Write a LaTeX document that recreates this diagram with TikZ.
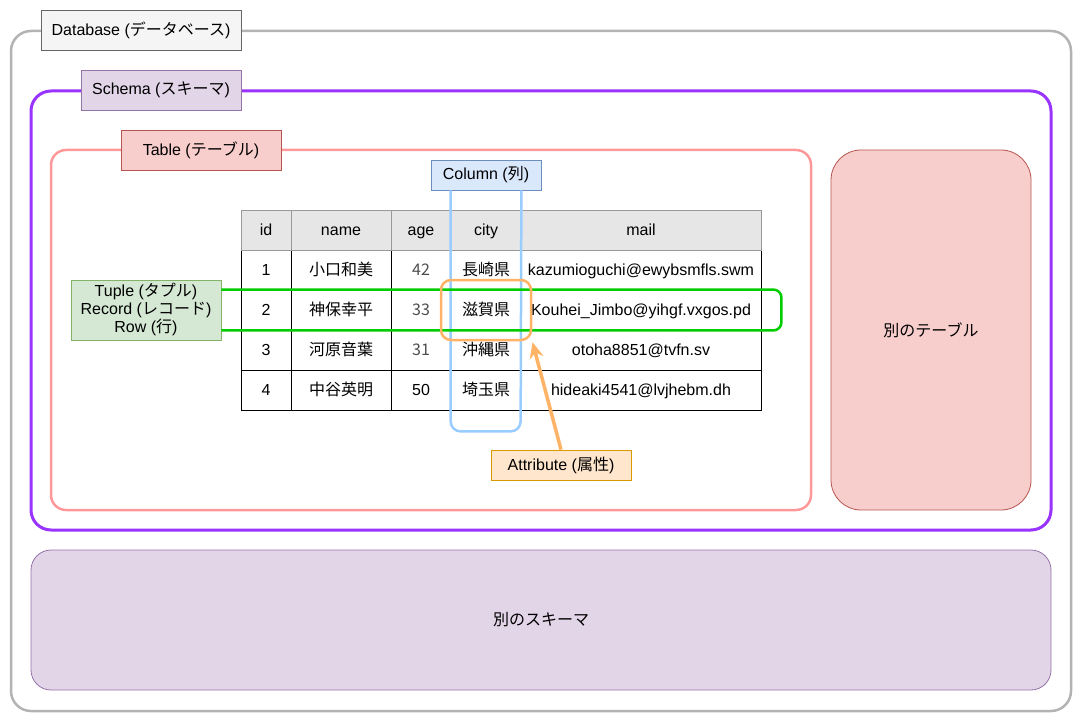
\documentclass[tikz,border=0pt]{standalone}
\usepackage{fontspec}
\setmainfont{Liberation Sans}
\newfontfamily\jp{Noto Sans CJK JP}
\usepackage{tikz}
\usetikzlibrary{arrows.meta,calc}
\definecolor{dbline}{HTML}{B3B3B3}
\definecolor{dbfill}{HTML}{F5F5F5}
\definecolor{dbdraw}{HTML}{666666}
\definecolor{scline}{HTML}{9933FF}
\definecolor{scfill}{HTML}{E1D5E7}
\definecolor{scdraw}{HTML}{9673A6}
\definecolor{tbline}{HTML}{FF9999}
\definecolor{tbfill}{HTML}{F8CECC}
\definecolor{tbdraw}{HTML}{B85450}
\definecolor{colfill}{HTML}{DAE8FC}
\definecolor{coldraw}{HTML}{6C8EBF}
\definecolor{colline}{HTML}{99CCFF}
\definecolor{rowfill}{HTML}{D5E8D4}
\definecolor{rowdraw}{HTML}{82B366}
\definecolor{rowline}{HTML}{00CC00}
\definecolor{atfill}{HTML}{FFE6CC}
\definecolor{atdraw}{HTML}{D79B00}
\definecolor{atline}{HTML}{FFB366}
\definecolor{headfill}{HTML}{E6E6E6}
\definecolor{headdraw}{HTML}{999999}
\definecolor{agegray}{HTML}{4D4D4D}

\begin{document}
\begin{tikzpicture}[x=1pt,y=-1pt,font=\fontsize{16}{19}\selectfont,
		frame/.style={rounded corners=20pt,inner sep=0pt},
		tag/.style={draw,line width=0.8pt,inner sep=0pt,align=center},
		cell/.style={draw=black,line width=0.8pt,minimum height=40pt,inner sep=0pt,text height=11pt,text depth=0pt},
		headcell/.style={cell,fill=headfill,draw=headdraw}]
		\useasboundingbox (0,0) rectangle (1083,722);
		% containers
		\node[frame,draw=dbline,line width=2.5pt,minimum width=1060pt,minimum height=680pt] (DB) at (541,371) {};
		\node[frame,draw=scline,line width=3pt,minimum width=1020pt,minimum height=439pt] (SC) at (541,310.5) {};
		\node[frame,rounded corners=15pt,draw=tbline,line width=2.5pt,minimum width=760pt,minimum height=360pt] (TB) at (431,330) {};
		\node[frame,rounded corners=30pt,draw=tbdraw,fill=tbfill,line width=0.8pt,minimum width=200pt,minimum height=360pt] (TB2) at (931,330) {\jp 別のテーブル};
		\node[frame,draw=scdraw,fill=scfill,line width=0.8pt,minimum width=1020pt,minimum height=140pt] (SC2) at (541,620) {\jp 別のスキーマ};
		% labels
		\node[tag,draw=dbdraw,fill=dbfill,minimum width=200pt,minimum height=40pt] (DBL) at (141,30) {Database ({\jp データベース})};
		\node[tag,draw=scdraw,fill=scfill,minimum width=160pt,minimum height=40pt] (SCL) at (161,90) {Schema ({\jp スキーマ})};
		\node[tag,draw=tbdraw,fill=tbfill,minimum width=160pt,minimum height=40pt] (TBL) at (201,150) {Table ({\jp テーブル})};
		% the table
		{
			\tikzset{cell/.append style={minimum width=50pt}}
			\node[cell] (id1) at (266,270) {1};
			\node[cell] (id2) at (266,310) {2};
			\node[cell] (id3) at (266,350) {3};
			\node[cell] (id4) at (266,390) {4};
			\node[headcell] (id0) at (266,230) {id};
		}
		{
			\tikzset{cell/.append style={minimum width=100pt,font=\jp\fontsize{16}{19}\selectfont}}
			\node[cell] (name1) at (341,270) {小口和美};
			\node[cell] (name2) at (341,310) {神保幸平};
			\node[cell] (name3) at (341,350) {河原音葉};
			\node[cell] (name4) at (341,390) {中谷英明};
			\node[headcell,font=\fontsize{16}{19}\selectfont] (name0) at (341,230) {name};
		}
		{
			\tikzset{cell/.append style={minimum width=60pt}}
			\node[cell,text=agegray] (age1) at (421,270) {\jp 42};
			\node[cell,text=agegray] (age2) at (421,310) {\jp 33};
			\node[cell,text=agegray] (age3) at (421,350) {\jp 31};
			\node[cell] (age4) at (421,390) {50};
			\node[headcell] (age0) at (421,230) {age};
		}
		{
			\tikzset{cell/.append style={minimum width=70pt,font=\jp\fontsize{16}{19}\selectfont}}
			\node[cell] (city1) at (486,270) {長崎県};
			\node[cell] (city2) at (486,310) {滋賀県};
			\node[cell] (city3) at (486,350) {沖縄県};
			\node[cell] (city4) at (486,390) {埼玉県};
			\node[headcell,font=\fontsize{16}{19}\selectfont] (city0) at (486,230) {city};
		}
		{
			\tikzset{cell/.append style={minimum width=240pt}}
			\node[cell] (mail1) at (641,270) {kazumioguchi@ewybsmfls.swm};
			\node[cell] (mail2) at (641,310) {Kouhei\_Jimbo@yihgf.vxgos.pd};
			\node[cell] (mail3) at (641,350) {otoha8851@tvfn.sv};
			\node[cell] (mail4) at (641,390) {hideaki4541@lvjhebm.dh};
			\node[headcell] (mail0) at (641,230) {mail};
		}
		% column
		\node[tag,draw=coldraw,fill=colfill,minimum width=110pt,minimum height=30pt] (COL) at (486,175) {Column ({\jp 列})};
		\draw[colline,line width=2.5pt,rounded corners=10pt] (city0.west |- COL.south) -- ++(0,241) -- ++(70,0) -- (city0.east |- COL.south);
		% row
		\node[tag,draw=rowdraw,fill=rowfill,minimum width=150pt,minimum height=60pt,font=\fontsize{16}{18}\selectfont] (ROW) at (146,310) {Tuple ({\jp タプル})\\Record ({\jp レコード})\\Row ({\jp 行})};
		\draw[rowline,line width=2.5pt,rounded corners=8pt] (ROW.east |- id2.north) -- ($(mail2.north east)+(20,0)$) -- ($(mail2.south east)+(20,0)$) -- (ROW.east |- id2.south);
		% attribute
		\node[draw=atline,line width=2.5pt,rounded corners=10pt,minimum width=90pt,minimum height=60pt] (ATB) at (486,310) {};
		\node[tag,draw=atdraw,fill=atfill,minimum width=140pt,minimum height=30pt] (ATT) at (561,465) {Attribute ({\jp 属性})};
		\draw[atline,line width=3.5pt,-{Stealth[length=16pt,width=14pt]},shorten >=1pt] (ATT.north) -- (ATB.south east);
	\end{tikzpicture}
\end{document}
